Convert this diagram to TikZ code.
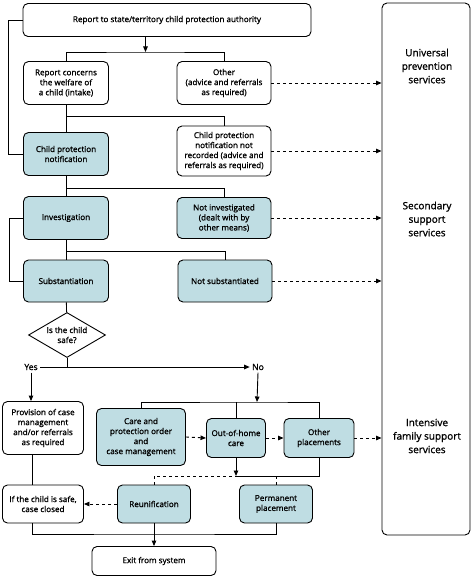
\documentclass[tikz,border=0pt]{standalone}
\usepackage{fontspec}
\setmainfont{Open Sans}[FakeBold=1.2]
\usetikzlibrary{shapes.geometric, arrows.meta}

\definecolor{boxblue}{RGB}{191,221,227}

\tikzset{
    flowbox/.style={draw, rounded corners=5pt, line width=0.9pt, align=center, inner sep=1pt,
        font=\fontsize{8.1}{10}\selectfont},
    shaded/.style={flowbox, fill=boxblue},
    lbl/.style={font=\fontsize{8.6}{10}\selectfont, inner sep=2pt},
    side/.style={align=center, font=\fontsize{10}{13.5}\selectfont}
}

\begin{document}
\begin{tikzpicture}[x=1pt, y=-1pt, line width=0.9pt, >={Triangle[length=5.5pt,width=4.5pt]}]
        \useasboundingbox (0,0) rectangle (474,578);

        \node[flowbox, minimum width=288, minimum height=33] (report) at (167,20) {Report to state/territory child protection authority};
        \node[flowbox, minimum width=85, minimum height=43] (intake) at (66,83) {Report concerns\\the welfare of\\a child (intake)};
        \node[flowbox, minimum width=94, minimum height=43] (other) at (224,83) {Other\\(advice and referrals\\as required)};
        \node[shaded, minimum width=85, minimum height=43] (notif) at (66,154) {Child protection\\notification};
        \node[flowbox, minimum width=94, minimum height=50] (notrec) at (224,151) {Child protection\\notification not\\recorded (advice and\\referrals as required)};
        \node[shaded, minimum width=85, minimum height=43] (invest) at (66,218) {Investigation};
        \node[shaded, minimum width=94, minimum height=41] (notinv) at (224,218) {Not investigated\\(dealt with by\\other means)};
        \node[shaded, minimum width=85, minimum height=42] (subst) at (66,281) {Substantiation};
        \node[shaded, minimum width=94, minimum height=42] (notsub) at (225,281) {Not substantiated};
        \node[draw, diamond, aspect=1.7, inner sep=0pt, minimum width=77, minimum height=45, align=center,
            font=\fontsize{8.1}{10}\selectfont] (safe) at (67,335) {Is the child\\safe?};
        \node[lbl] (yes) at (31,367) {Yes};
        \node[lbl] (no) at (258,367) {No};

        \node[flowbox, minimum width=81, minimum height=53] (provision) at (43,428) {Provision of case\\management\\and/or referrals\\as required};
        \node[shaded, minimum width=89, minimum height=57] (care) at (141,437) {Care and\\protection order\\and\\case management};
        \node[shaded, minimum width=59, minimum height=39] (ohc) at (236,438) {Out-of-home\\care};
        \node[shaded, minimum width=70, minimum height=39] (otherpl) at (319,438) {Other\\placements};
        \node[flowbox, minimum width=81, minimum height=38] (closed) at (43,504) {If the child is safe,\\case closed};
        \node[shaded, minimum width=73, minimum height=38] (reunif) at (154,504) {Reunification};
        \node[shaded, minimum width=73, minimum height=38] (perm) at (276,504) {Permanent\\placement};
        \node[flowbox, minimum width=124, minimum height=29] (exit) at (154,561) {Exit from system};

        \node[draw, rounded corners=5pt, minimum width=88, minimum height=532] (services) at (426,269) {};
        \node[side] (universal) at (427,66) {Universal\\prevention\\services};
        \node[side] (secondary) at (427,219) {Secondary\\support\\services};
        \node[side] (intensive) at (427,436) {Intensive\\family support\\services};

        \coordinate (split) at (145.5,52);
        \coordinate (b1) at (66,116);
        \coordinate (b2) at (66,188);
        \coordinate (b3) at (66,251);
        \coordinate (noline) at (257,402);
        \coordinate (placed) at (236,476);
        \coordinate (leave) at (154,534);

        \draw[->] (report.south -| split) -- (split);
        \draw (intake.north) |- (split) -| (other.north);
        \draw (report.west) -- ++(-14,0) |- (notif.west);
        \draw (intake) -- (notif);
        \draw (b1) -| (notrec.north);
        \draw (notif) -- (invest);
        \draw (b2) -| (notinv.north);
        \draw (invest.west) -- ++(-14,0) |- (subst.west);
        \draw (invest) -- (subst);
        \draw (b3) -| (notsub.north);
        \draw (subst) -- (safe);
        \draw (safe.south) -- (safe.south |- yes);
        \draw[->] (yes.east) -- (no.west);

        \draw[dashed, ->] (other.east) -- (other.east -| services.west);
        \draw[dashed, ->] (notrec.east) -- (notrec.east -| services.west);
        \draw[dashed, ->] (notinv.east) -- (notinv.east -| services.west);
        \draw[dashed, ->] (notsub.east) -- (notsub.east -| services.west);

        \draw[->] (yes.south) -- (provision.north -| yes);
        \draw[->] (no.south) -- (noline);
        \draw (care.north) |- (noline) -| (otherpl.north);
        \draw (ohc.north) -- (ohc.north |- noline);
        \draw[dashed, ->] (care.east) -- (ohc.west);
        \draw[dashed, ->] (ohc.east) -- (otherpl.west);
        \draw[dashed, ->] (otherpl.east) -- (otherpl.east -| services.west);

        \draw[->] (ohc.south) -- (placed);
        \draw (placed) -| (otherpl.south);
        \draw[dashed] (reunif.north) |- (placed);
        \draw[dashed] (perm.north) -- (perm.north |- placed);
        \draw[dashed, ->] (reunif.west) -- (closed.east);

        \draw ([xshift=-11pt]provision.south) -- ([xshift=-11pt]closed.north);
        \draw ([xshift=-11pt]closed.south) |- (leave) -| (perm.south);
        \draw (reunif.south) -- (leave);
        \draw[->] (leave) -- (exit.north);
    \end{tikzpicture}
\end{document}
